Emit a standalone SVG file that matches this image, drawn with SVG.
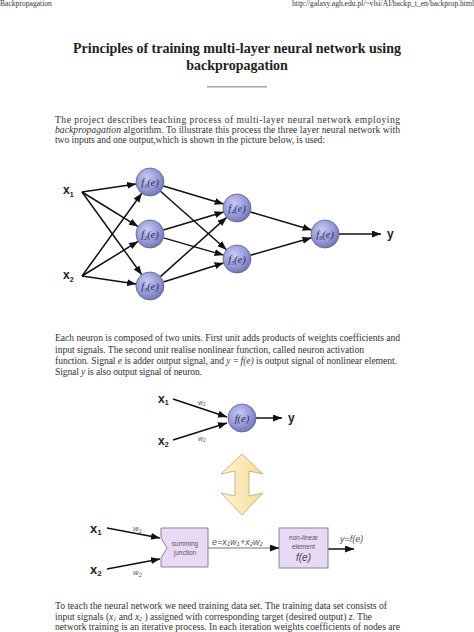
<svg xmlns="http://www.w3.org/2000/svg" width="474" height="632" viewBox="0 0 474 632">
<defs>
<radialGradient id="ng" cx="0.4" cy="0.35" r="0.7">
<stop offset="0" stop-color="#c9cbf2"/>
<stop offset="0.6" stop-color="#9599d6"/>
<stop offset="1" stop-color="#6d71ad"/>
</radialGradient>
<linearGradient id="ag" x1="0" y1="0" x2="1" y2="0">
<stop offset="0" stop-color="#fff3cf"/>
<stop offset="1" stop-color="#f6dc98"/>
</linearGradient>
<marker id="ah" markerUnits="userSpaceOnUse" markerWidth="10" markerHeight="8" refX="9" refY="3.5" orient="auto">
<path d="M0,0 L9,3.5 L0,7 z" fill="#111"/>
</marker>
</defs>
<style>
.hdr{font-family:"Liberation Serif",serif;font-size:7.6px;fill:#333}
.ttl{font-family:"Liberation Serif",serif;font-size:14px;font-weight:bold;fill:#222;text-anchor:middle}
.p{font-family:"Liberation Serif",serif;font-size:9.6px;fill:#333}
.neuron{fill:url(#ng);stroke:#5d6098;stroke-width:0.8}
.fl{font-family:"Liberation Serif",serif;font-style:italic;font-size:10.5px;fill:#2a2b58;text-anchor:middle}
.in{font-family:"Liberation Sans",sans-serif;font-weight:bold;font-size:12px;fill:#222}
.in2{font-family:"Liberation Sans",sans-serif;font-weight:bold;font-size:13px;fill:#222}
.w{font-family:"Liberation Sans",sans-serif;font-style:italic;font-size:7px;fill:#555}
.w2{font-family:"Liberation Sans",sans-serif;font-style:italic;font-size:8px;fill:#555}
.w3{font-family:"Liberation Sans",sans-serif;font-style:italic;font-size:9px;fill:#555}
.box{fill:#e8daf4;stroke:#85859a;stroke-width:1}
.bt{font-family:"Liberation Sans",sans-serif;font-size:6.5px;fill:#555;text-anchor:middle}
.bf{font-family:"Liberation Sans",sans-serif;font-size:10px;font-style:italic;fill:#444;text-anchor:middle}
.c{stroke:#111;stroke-width:1.5;fill:none;marker-end:url(#ah)}
</style>

<text class="hdr" x="0" y="6">Backpropagation</text>
<text class="hdr" x="474" y="6" text-anchor="end">http://galaxy.agh.edu.pl/~vlsi/AI/backp_t_en/backprop.html</text>

<text class="ttl" x="237" y="53">Principles of training multi-layer neural network using</text>
<text class="ttl" x="237" y="70">backpropagation</text>
<rect x="207" y="86" width="60" height="1.6" fill="#aaa"/>

<text class="p" x="55" y="123" textLength="345" lengthAdjust="spacing">The project describes teaching process of multi-layer neural network employing</text>
<text class="p" x="55" y="133" textLength="345" lengthAdjust="spacing"><tspan font-style="italic">backpropagation</tspan> algorithm. To illustrate this process the three layer neural network with</text>
<text class="p" x="55" y="143" textLength="270" lengthAdjust="spacing">two inputs and one output,which is shown in the picture below, is used:</text>

<g id="connectors">
<path class="c" d="M82,192 L136.1,184"/>
<path class="c" d="M82,192 L138.1,226.6"/>
<path class="c" d="M82,192 L141.8,274.7"/>
<path class="c" d="M82,276 L141.8,193.3"/>
<path class="c" d="M82,276 L138.1,241.4"/>
<path class="c" d="M82,276 L136.1,284"/>
<path class="c" d="M163.4,186 L223.6,204"/>
<path class="c" d="M160.5,191.3 L226.5,249.7"/>
<path class="c" d="M163.4,230 L223.6,212"/>
<path class="c" d="M163.5,237.9 L223.5,255.1"/>
<path class="c" d="M160.4,276.6 L226.6,217.4"/>
<path class="c" d="M163.4,282 L223.6,263"/>
<path class="c" d="M250.4,212 L311.6,230"/>
<path class="c" d="M250.5,255.2 L311.5,237.8"/>
<path class="c" d="M339,234 L381,234"/>
<path class="c" d="M173,399 L227,417"/>
<path class="c" d="M173,440 L227,423"/>
<path class="c" d="M256,418 L282,418"/>
<path class="c" d="M107,528 L160,538"/>
<path class="c" d="M107,569 L160,559"/>
<path d="M208,548 L272,548" stroke="#777" stroke-width="1" fill="none"/>
<path class="c" d="M270,548 L279,548"/>
<path class="c" d="M328,549 L354,549"/>
</g>

<g id="x1"><text class="in" x="63" y="194">x<tspan font-size="7" dy="3">1</tspan></text></g>
<g id="x2"><text class="in" x="63" y="279">x<tspan font-size="7" dy="3">2</tspan></text></g>
<g id="f1"><circle class="neuron" cx="150" cy="182" r="14"/><text class="fl" x="150" y="186">f<tspan font-size="6" dy="2">1</tspan><tspan dy="-2">(e)</tspan></text></g>
<g id="f2"><circle class="neuron" cx="150" cy="234" r="14"/><text class="fl" x="150" y="238">f<tspan font-size="6" dy="2">2</tspan><tspan dy="-2">(e)</tspan></text></g>
<g id="f3"><circle class="neuron" cx="150" cy="286" r="14"/><text class="fl" x="150" y="290">f<tspan font-size="6" dy="2">3</tspan><tspan dy="-2">(e)</tspan></text></g>
<g id="f4"><circle class="neuron" cx="237" cy="208" r="14"/><text class="fl" x="237" y="212">f<tspan font-size="6" dy="2">4</tspan><tspan dy="-2">(e)</tspan></text></g>
<g id="f5"><circle class="neuron" cx="237" cy="259" r="14"/><text class="fl" x="237" y="263">f<tspan font-size="6" dy="2">5</tspan><tspan dy="-2">(e)</tspan></text></g>
<g id="f6"><circle class="neuron" cx="325" cy="234" r="14"/><text class="fl" x="325" y="238">f<tspan font-size="6" dy="2">6</tspan><tspan dy="-2">(e)</tspan></text></g>
<g id="y"><text class="in" x="387" y="238">y</text></g>

<text class="p" x="55" y="341" textLength="345" lengthAdjust="spacing">Each neuron is composed of two units. First unit adds products of weights coefficients and</text>
<text class="p" x="55" y="352.5" textLength="309" lengthAdjust="spacing">input signals. The second unit realise nonlinear function, called neuron activation</text>
<text class="p" x="55" y="364" textLength="342" lengthAdjust="spacing">function. Signal <tspan font-style="italic">e</tspan> is adder output signal, and <tspan font-style="italic">y</tspan> = <tspan font-style="italic">f(e)</tspan> is output signal of nonlinear element.</text>
<text class="p" x="55" y="375" textLength="147" lengthAdjust="spacing">Signal <tspan font-style="italic">y</tspan> is also output signal of neuron.</text>

<g id="neuron-x1"><text class="in" x="158" y="403">x<tspan font-size="7" dy="2">1</tspan></text></g>
<g id="neuron-x2"><text class="in" x="158" y="445">x<tspan font-size="7" dy="2">2</tspan></text></g>
<text class="w" x="198" y="405">w<tspan font-size="5" dy="1">1</tspan></text>
<text class="w" x="198" y="441">w<tspan font-size="5" dy="1">2</tspan></text>
<g id="neuron"><circle class="neuron" cx="242" cy="418" r="14"/><text class="fl" x="242" y="422">f(e)</text></g>
<g id="neuron-y"><text class="in" x="288" y="422">y</text></g>

<g id="double-arrow"><polygon points="242,454 263,474 249,471 249,496 263,493 242,515 221,493 235,496 235,471 221,474" fill="url(#ag)" stroke="#b9a77a" stroke-width="0.8"/></g>

<g id="bx1"><text class="in2" x="90" y="533">x<tspan font-size="8" dy="2">1</tspan></text></g>
<g id="bx2"><text class="in2" x="90" y="574">x<tspan font-size="8" dy="2">2</tspan></text></g>
<text class="w2" x="133" y="531">w<tspan font-size="5.5" dy="1.5">1</tspan></text>
<text class="w2" x="133" y="575">w<tspan font-size="5.5" dy="1.5">2</tspan></text>
<g id="summing"><path class="box" d="M161,528 H208 V567 H161 V558 L167,548 L161,538 Z"/><text class="bt" x="185" y="546">summing</text><text class="bt" x="185" y="555">junction</text></g>
<text class="w3" x="212" y="544.5">e=x<tspan font-size="6" dy="1.5">1</tspan><tspan dy="-1.5">w</tspan><tspan font-size="6" dy="1.5">1</tspan><tspan dy="-1.5">+x</tspan><tspan font-size="6" dy="1.5">2</tspan><tspan dy="-1.5">w</tspan><tspan font-size="6" dy="1.5">2</tspan></text>
<g id="nonlinear"><rect class="box" x="279" y="528" width="49" height="40"/><text class="bt" x="303.5" y="540">non-linear</text><text class="bt" x="303.5" y="549">element</text><text class="bf" x="303.5" y="561">f(e)</text></g>
<text class="w3" x="340" y="542">y=f(e)</text>

<text class="p" x="55" y="609" textLength="332" lengthAdjust="spacing">To teach the neural network we need training data set. The training data set consists of</text>
<text class="p" x="55" y="620" textLength="317" lengthAdjust="spacing">input signals (<tspan font-style="italic">x<tspan font-size="6" dy="1">1</tspan></tspan><tspan dy="-1"> and </tspan><tspan font-style="italic">x<tspan font-size="6" dy="1">2</tspan></tspan><tspan dy="-1"> ) assigned with corresponding target (desired output) </tspan><tspan font-style="italic">z</tspan>. The</text>
<text class="p" x="55" y="630" textLength="345" lengthAdjust="spacing">network training is an iterative process. In each iteration weights coefficients of nodes are</text>
</svg>
